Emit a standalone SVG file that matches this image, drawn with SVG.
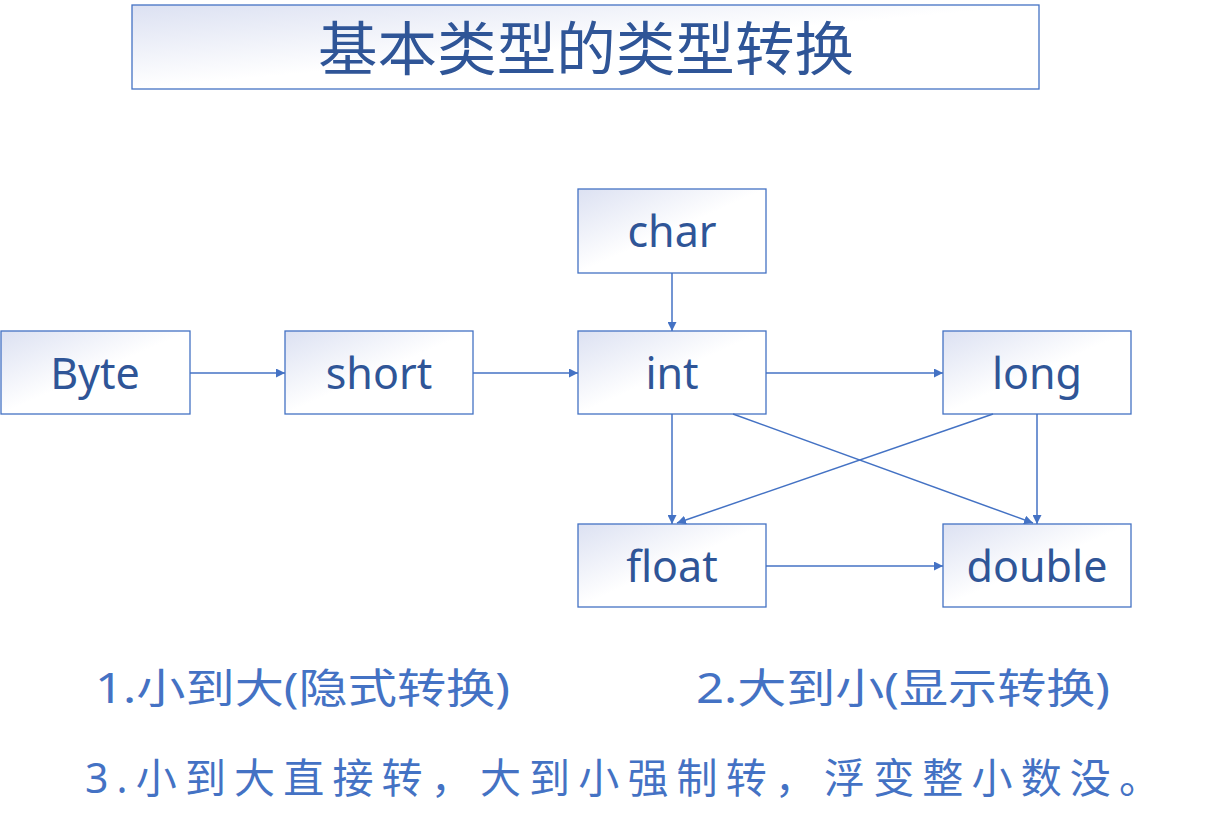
<svg xmlns="http://www.w3.org/2000/svg" width="1207" height="834" viewBox="0 0 1207 834">
<style>
.b{stroke:#4472C4;stroke-width:1.3;fill:url(#g)}
.t{font-family:"Noto Sans","Open Sans",sans-serif;font-size:43px;fill:#2F5597;text-anchor:middle;dominant-baseline:central}
.c{stroke:#4472C4;stroke-width:1.5;fill:none;marker-end:url(#a)}
.n{font-family:"Noto Sans","Noto Sans CJK SC",sans-serif;font-size:41px;fill:#4472C4}
</style>
<defs>
<linearGradient id="g" x1="0" y1="0" x2="1" y2="1"><stop offset="0" stop-color="#DCE1F2"/><stop offset="0.5" stop-color="#FFFFFF"/><stop offset="1" stop-color="#FFFFFF"/></linearGradient>
<marker id="a" viewBox="0 0 10 10" refX="10" refY="5" markerWidth="9" markerHeight="9" markerUnits="userSpaceOnUse" orient="auto"><path d="M0,0L10,5L0,10z" fill="#4472C4"/></marker>
</defs>
<rect width="1207" height="834" fill="#fff"/>
<g id="title"><rect class="b" x="132" y="5" width="907" height="84"/><text class="t" x="586" y="45" textLength="536" lengthAdjust="spacingAndGlyphs" style="font-family:'Noto Sans CJK SC',sans-serif;font-size:58px">基本类型的类型转换</text></g>
<g id="byte"><rect class="b" x="1" y="331" width="189" height="83"/><text class="t" x="95" y="372">Byte</text></g>
<g id="short"><rect class="b" x="285" y="331" width="188" height="83"/><text class="t" x="379" y="372">short</text></g>
<g id="char"><rect class="b" x="578" y="189" width="188" height="84"/><text class="t" x="672" y="230">char</text></g>
<g id="int"><rect class="b" x="578" y="331" width="188" height="83"/><text class="t" x="672" y="372">int</text></g>
<g id="long"><rect class="b" x="943" y="331" width="188" height="83"/><text class="t" x="1037" y="372">long</text></g>
<g id="float"><rect class="b" x="578" y="524" width="188" height="83"/><text class="t" x="672" y="565">float</text></g>
<g id="double"><rect class="b" x="943" y="524" width="188" height="83"/><text class="t" x="1037" y="565">double</text></g>
<g id="connectors">
<line class="c" x1="190" y1="373" x2="285" y2="373"/>
<line class="c" x1="473" y1="373" x2="578" y2="373"/>
<line class="c" x1="672" y1="273" x2="672" y2="331"/>
<line class="c" x1="766" y1="373" x2="943" y2="373"/>
<line class="c" x1="672" y1="414" x2="672" y2="524"/>
<line class="c" x1="1037" y1="414" x2="1037" y2="524"/>
<line class="c" x1="766" y1="566" x2="943" y2="566"/>
<line class="c" x1="733" y1="414" x2="1033" y2="523"/>
<line class="c" x1="993" y1="414" x2="677" y2="523"/>
</g>
<text class="n" x="95" y="703" textLength="415" lengthAdjust="spacingAndGlyphs">1.小到大(隐式转换)</text>
<text class="n" x="696" y="703" textLength="414" lengthAdjust="spacingAndGlyphs">2.大到小(显示转换)</text>
<text class="n" x="85" y="793" textLength="1075" lengthAdjust="spacing">3.小到大直接转，大到小强制转，浮变整小数没。</text>
</svg>
